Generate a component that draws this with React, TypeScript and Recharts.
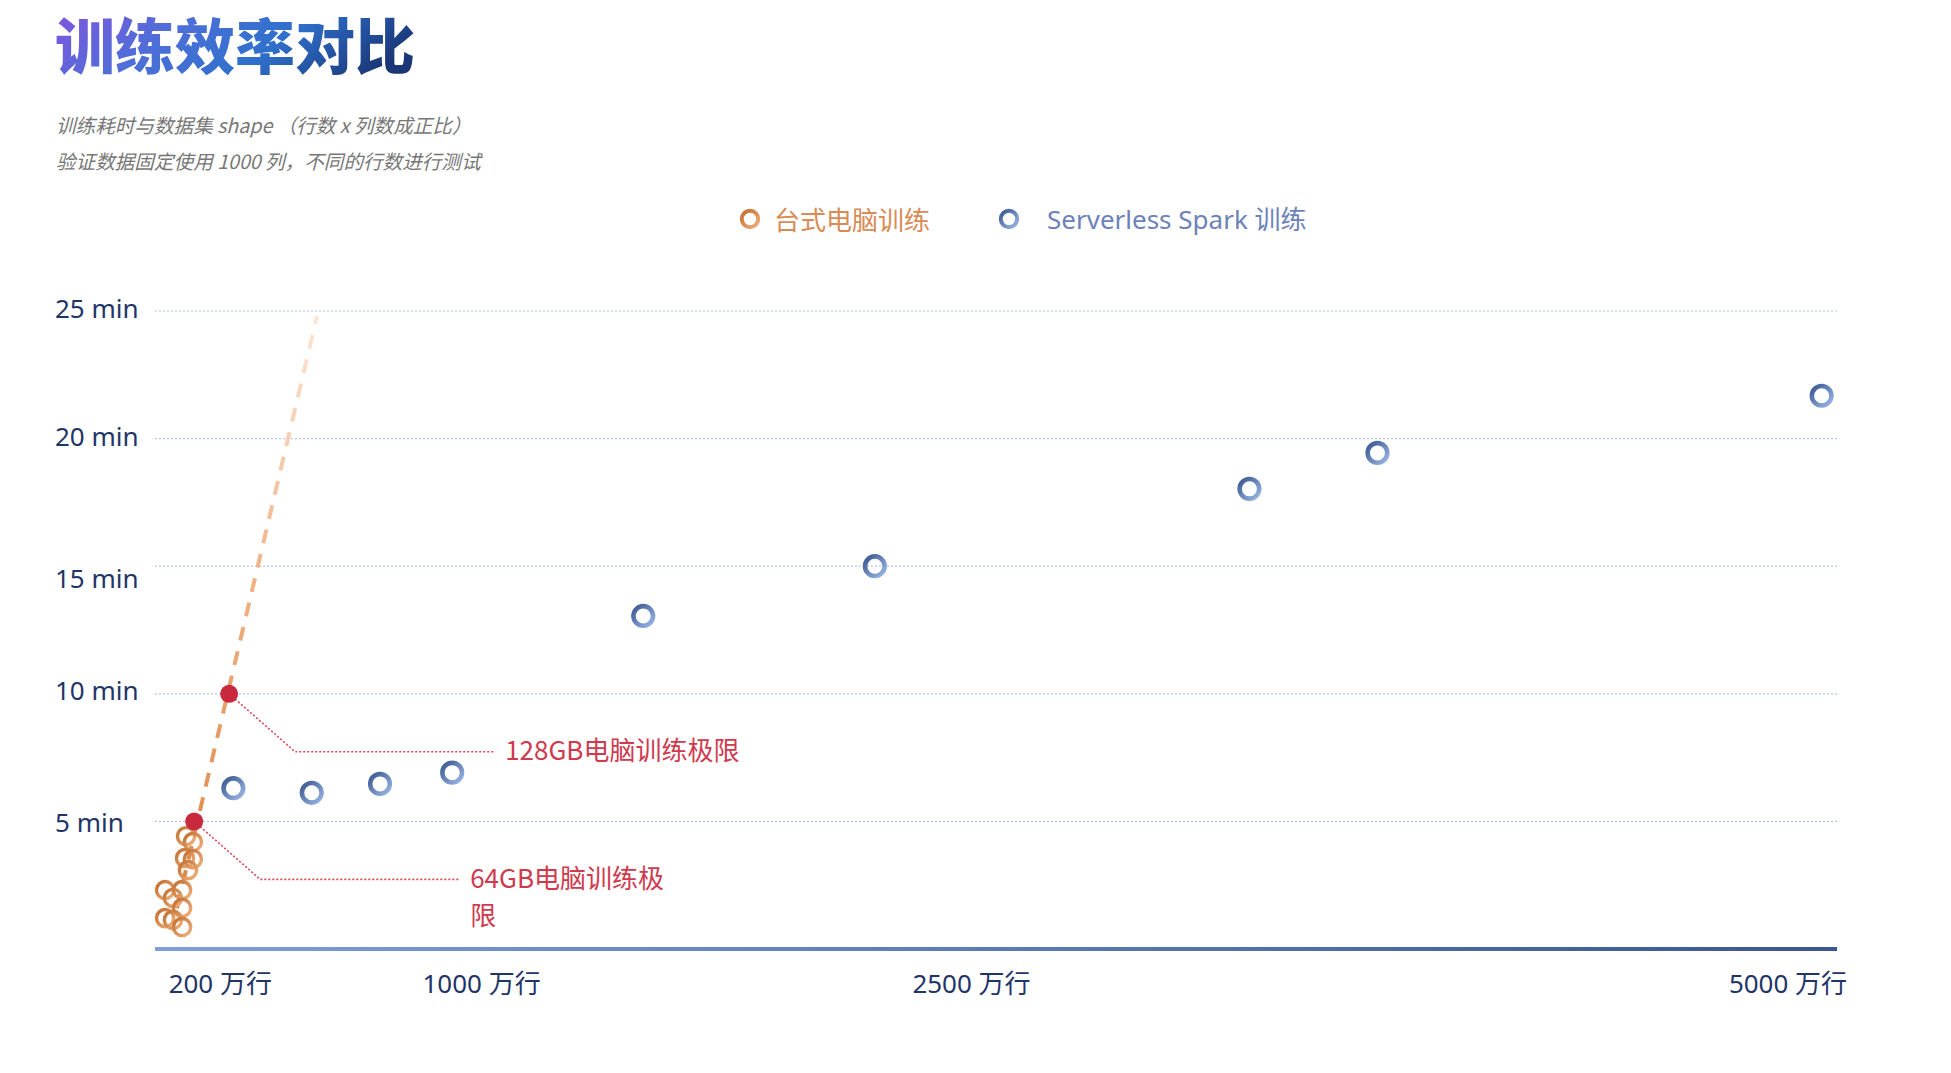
import React from "react";
import { ScatterChart, Scatter, XAxis, YAxis, CartesianGrid } from "recharts";

// ---------- data ----------
const desktopRows = [95, 116, 92, 116, 101, 31, 83, 55, 83, 31, 55, 83]; // 万行
const desktopMinutes = [4.42, 4.19, 3.56, 3.52, 3.09, 2.31, 2.31, 2.0, 1.61, 1.21, 1.14, 0.86];

const sparkRows = [240, 480, 689, 910, 1495, 2204, 3351, 3743, 5103];
const sparkMinutes = [6.3, 6.12, 6.47, 6.91, 13.05, 15.0, 18.03, 19.44, 21.68];

const limitRows = [120, 227];
const limitMinutes = [5, 10];
const limitLabels = [["64GB电脑训练极", "限"], ["128GB电脑训练极限"]];

const trendRows = [67, 496];
const trendMinutes = [1.6, 24.8];

const xTicks = [200, 1000, 2500, 5000];
const xTickLabels = ["200 万行", "1000 万行", "2500 万行", "5000 万行"];
const yTicks = [5, 10, 15, 20, 25];

const seriesNames = ["台式电脑训练", "Serverless Spark 训练"];
const titleText = "训练效率对比";
const subtitleLines = [
  "训练耗时与数据集 shape （行数 x 列数成正比）",
  "验证数据固定使用 1000 列，不同的行数进行测试",
];

// label vertical nudges (style only)
const Y_LABEL_NUDGE: Record<number, number> = { 25: -3, 20: -3, 15: 12, 10: -4, 5: 1 };

// ---------- build ----------
const desktopData = desktopRows.map((x, i) => ({ x, y: desktopMinutes[i] }));
const sparkData = sparkRows.map((x, i) => ({ x, y: sparkMinutes[i] }));
const limitData = limitRows.map((x, i) => ({ x, y: limitMinutes[i], lines: limitLabels[i] }));
const trendData = trendRows.map((x, i) => ({ x, y: trendMinutes[i] }));

const FONT = '"Noto Sans", "Noto Sans CJK SC", sans-serif';
const CJK = '"Noto Sans CJK SC", "Noto Sans", sans-serif';

const OrangeRing = (p: any) => (
  <circle cx={p.cx} cy={p.cy} r={8.6} fill="none" stroke="url(#gOrange)" strokeWidth={3.4} />
);
const BlueRing = (p: any) => (
  <circle cx={p.cx} cy={p.cy} r={9.8} fill="none" stroke="url(#gBlue)" strokeWidth={4.6} />
);
const NoDot = () => <g />;

const LimitMarker = (p: any) => {
  const { cx, cy, payload } = p;
  const lines: string[] = payload.lines || [];
  return (
    <g>
      <polyline
        points={`${cx},${cy} ${cx + 66},${cy + 58} ${cx + 266},${cy + 58}`}
        fill="none"
        stroke="#d9485c"
        strokeWidth={1.6}
        strokeDasharray="2 2"
      />
      <circle cx={cx} cy={cy} r={9} fill="#c9293d" />
      {lines.map((l, i) => (
        <text
          key={i}
          x={cx + 276}
          y={cy + 55 + i * 37}
          fill="#d03a4f"
          fontSize={26}
          fontFamily={CJK}
          dominantBaseline="central"
        >
          {l}
        </text>
      ))}
    </g>
  );
};

const XTick = (p: any) => {
  const idx = xTicks.indexOf(p.payload.value);
  return (
    <text
      x={p.x}
      y={p.y + 34}
      textAnchor="middle"
      dominantBaseline="central"
      fill="#1f3568"
      fontSize={26}
      fontFamily={FONT}
    >
      {xTickLabels[idx]}
    </text>
  );
};

const YTick = (p: any) => {
  const v = p.payload.value;
  return (
    <text
      x={55}
      y={p.y + (Y_LABEL_NUDGE[v] ?? 0)}
      textAnchor="start"
      dominantBaseline="central"
      fill="#1f3568"
      fontSize={26}
      fontFamily={FONT}
    >
      {`${v} min`}
    </text>
  );
};

const Ring = ({ grad }: { grad: string }) => (
  <svg width={22} height={22} style={{ display: "block" }}>
    <circle cx={11} cy={11} r={8.2} fill="none" stroke={`url(#${grad})`} strokeWidth={4} />
  </svg>
);

export default function App() {
  return (
    <div
      style={{
        position: "absolute",
        left: 0,
        top: 0,
        width: 1951,
        height: 1073,
        background: "#ffffff",
        overflow: "hidden",
        fontFamily: FONT,
      }}
    >
      <svg width={0} height={0} style={{ position: "absolute" }}>
        <defs>
          <linearGradient id="gOrange" x1="0" y1="0" x2="1" y2="1">
            <stop offset="0%" stopColor="#c26f30" />
            <stop offset="100%" stopColor="#f0b07c" />
          </linearGradient>
          <linearGradient id="gBlue" x1="0" y1="0" x2="1" y2="1">
            <stop offset="0%" stopColor="#3a5890" />
            <stop offset="100%" stopColor="#9ab7e6" />
          </linearGradient>
          <linearGradient id="gDash" gradientUnits="userSpaceOnUse" x1="177" y1="908" x2="317" y2="315">
            <stop offset="0%" stopColor="#da8444" />
            <stop offset="55%" stopColor="#f0b283" />
            <stop offset="100%" stopColor="#fde6d6" />
          </linearGradient>
          <linearGradient id="gAxis" gradientUnits="userSpaceOnUse" x1="155" y1="0" x2="1837" y2="0">
            <stop offset="0%" stopColor="#7f9fd6" />
            <stop offset="100%" stopColor="#3b5690" />
          </linearGradient>
        </defs>
      </svg>

      <svg width={520} height={96} style={{ position: "absolute", left: 0, top: 0 }}>
        <defs>
          <linearGradient id="gTitle" x1="0" y1="0.2" x2="1" y2="0.5">
            <stop offset="0%" stopColor="#7e56e0" />
            <stop offset="35%" stopColor="#4d6fd8" />
            <stop offset="65%" stopColor="#2f70cc" />
            <stop offset="100%" stopColor="#1a3676" />
          </linearGradient>
        </defs>
        <text
          x={55}
          y={42}
          dominantBaseline="central"
          fontSize={60}
          fontWeight={900}
          fontFamily={CJK}
          fill="url(#gTitle)"
        >
          {titleText}
        </text>
      </svg>

      {subtitleLines.map((t, i) => (
        <div
          key={i}
          style={{
            position: "absolute",
            left: 56,
            top: 112 + i * 36,
            fontSize: 19.6,
            lineHeight: "26px",
            fontStyle: "italic",
            color: "#777777",
            fontFamily: CJK,
            whiteSpace: "nowrap",
          }}
        >
          {t}
        </div>
      ))}

      <div style={{ position: "absolute", left: 739, top: 201, display: "flex", alignItems: "center" }}>
        <Ring grad="gOrange" />
        <span style={{ marginLeft: 13, fontSize: 26, color: "#d88b55", fontFamily: CJK, lineHeight: "36px" }}>
          {seriesNames[0]}
        </span>
      </div>
      <div style={{ position: "absolute", left: 998, top: 201, display: "flex", alignItems: "center" }}>
        <Ring grad="gBlue" />
        <span style={{ marginLeft: 27, fontSize: 26, color: "#6c82b8", fontFamily: FONT, lineHeight: "36px" }}>
          {seriesNames[1]}
        </span>
      </div>

      <div style={{ position: "absolute", left: 0, top: 0 }}>
        <ScatterChart width={1951} height={1073} margin={{ top: 311, right: 114, bottom: 84, left: 55 }}>
          <CartesianGrid vertical={false} stroke="#b3c4e6" strokeDasharray="2 2" strokeWidth={1.2} />
          <XAxis
            type="number"
            dataKey="x"
            domain={[0, 5150]}
            ticks={xTicks}
            tick={<XTick />}
            tickLine={false}
            tickSize={0}
            tickMargin={0}
            height={40}
            axisLine={{ stroke: "url(#gAxis)", strokeWidth: 4 }}
            interval={0}
          />
          <YAxis
            type="number"
            dataKey="y"
            domain={[0, 25]}
            ticks={yTicks}
            tick={<YTick />}
            tickLine={false}
            axisLine={false}
            width={100}
            interval={0}
          />
          <Scatter
            data={trendData}
            line={{ stroke: "url(#gDash)", strokeWidth: 4, strokeDasharray: "14 11" }}
            shape={NoDot}
            isAnimationActive={false}
          />
          <Scatter data={desktopData} shape={OrangeRing} isAnimationActive={false} />
          <Scatter data={sparkData} shape={BlueRing} isAnimationActive={false} />
          <Scatter data={limitData} shape={LimitMarker} isAnimationActive={false} />
        </ScatterChart>
      </div>
    </div>
  );
}
